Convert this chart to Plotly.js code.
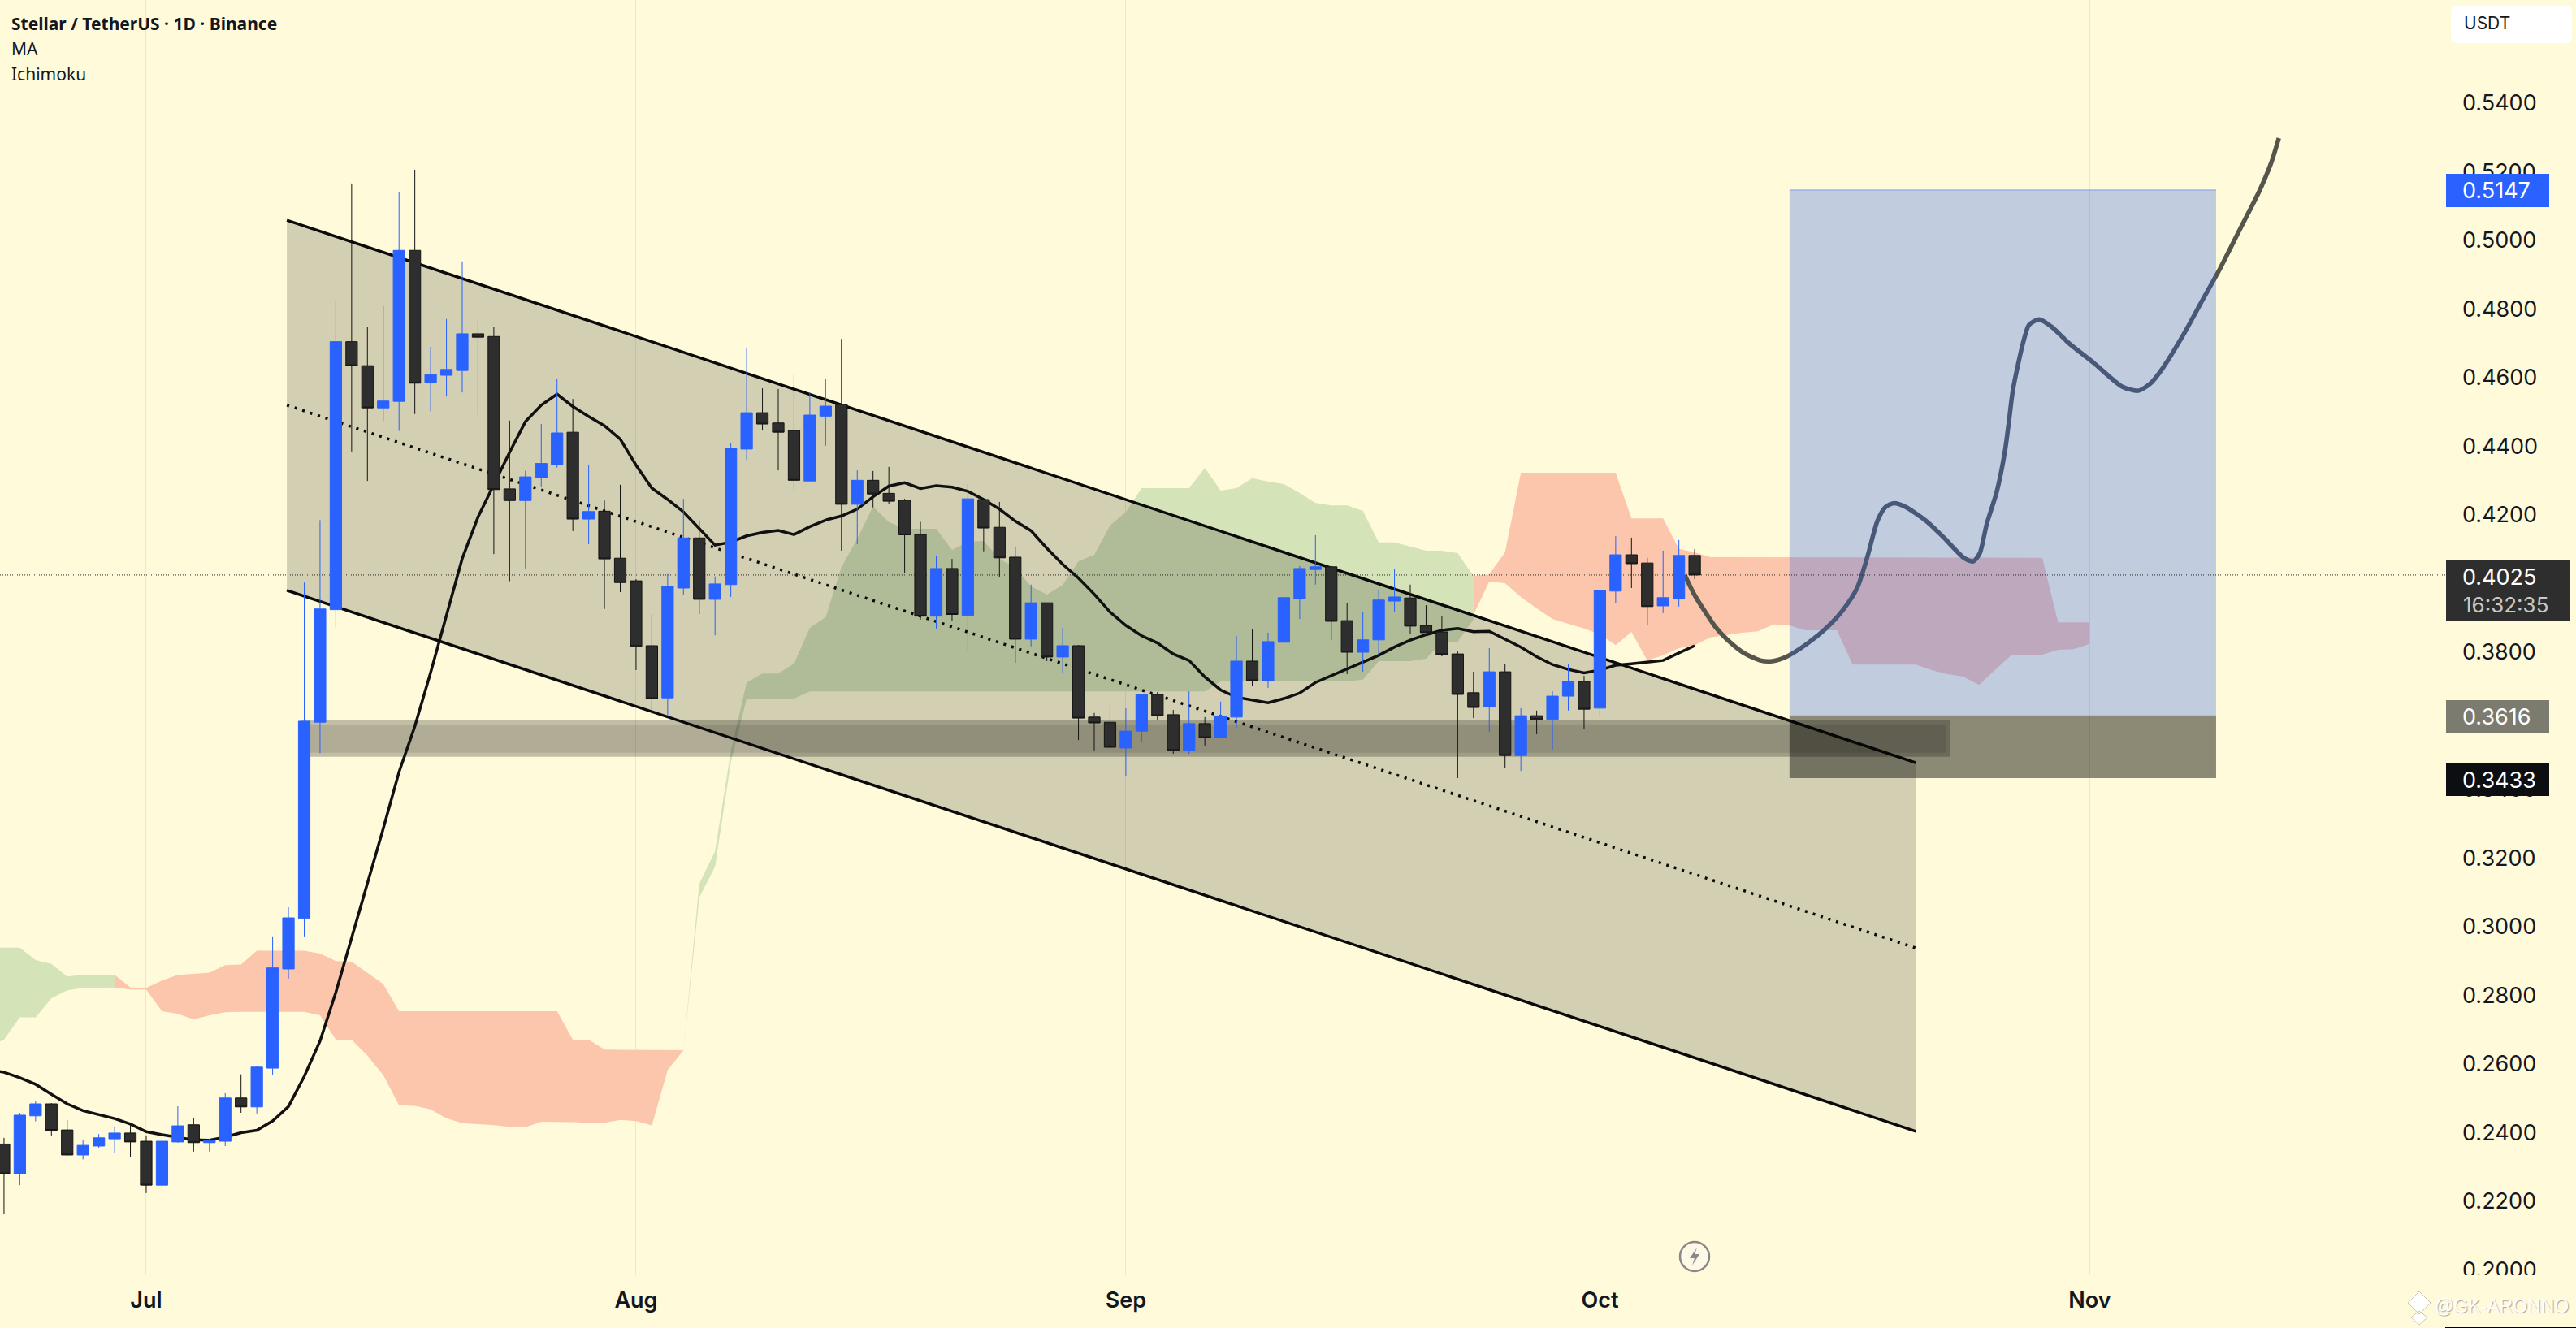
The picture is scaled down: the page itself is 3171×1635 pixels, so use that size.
<!DOCTYPE html>
<html>
<head>
<meta charset="utf-8">
<script src="https://cdn.plot.ly/plotly-3.0.1.min.js"></script>
<style>html,body{margin:0;padding:0;background:#FFFAD9}#chart{width:3171px;height:1635px}</style>
</head>
<body>
<div id="chart"></div>
<script>
// Day numbers count from 1 July (Jul = 0, Aug = 31, ...)
const monthDays = [0, 31, 62, 92, 123];
const monthLabels = ["Jul", "Aug", "Sep", "Oct", "Nov"];
const priceTicks = [0.20,0.22,0.24,0.26,0.28,0.30,0.32,0.34,0.36,0.38,0.40,0.42,0.44,0.46,0.48,0.50,0.52,0.54];
const firstCandleDay = -9;
const firstAverageDay = -10;

const openPrices = [.2367,.2280,.2449,.2484,.2408,.2335,.2361,.2382,.2399,
.2375,.2247,.2373,.2423,.2371,.2375,.2501,.2475,.2588,.2877,
.3024,.3596,.3924,.4705,.4635,.4512,.4531,.4971,.4586,.4607,
.4621,.4728,.4720,.4276,.4242,.4309,.4347,.4441,.4188,.4211,.4074,
.4008,.3819,.3667,.3987,.4133,.3954,.3997,.4392,.4498,.4468,
.4446,.4299,.4488,.4522,.4231,.4301,.4263,.4243,.4143,.3905,
.4044,.3907,.4245,.4164,.4077,.3838,.3944,.3786,.3819,.3611,.3596,
.3521,.3570,.3677,.3618,.3514,.3592,.3551,.3611,.3774,.3717,
.3829,.3956,.4041,.4049,.3892,.3800,.3836,.3949,.3958,.3878,
.3859,.3795,.3682,.3641,.3743,.3499,.3615,.3604,.3672,.3715,
.3637,.3978,.4084,.4060,.3935,.3956,.4082];
const highPrices = [.2385,.2458,.2493,.2486,.2437,.2380,.2396,.2418,.2423,
.2392,.2396,.2477,.2444,.2382,.2515,.2570,.2593,.2972,.3057,
.4003,.4185,.4825,.5166,.4749,.4809,.5142,.5206,.4690,.4771,
.4939,.4766,.4747,.4475,.4329,.4465,.4597,.4538,.4347,.4242,.4288,
.4013,.3911,.4028,.4247,.4184,.4021,.4409,.4688,.4569,.4567,
.4609,.4557,.4595,.4713,.4330,.4328,.4340,.4247,.4180,.4082,
.4072,.4290,.4245,.4238,.4108,.3997,.3944,.3871,.3821,.3623,.3646,
.3637,.3677,.3684,.3632,.3686,.3611,.3656,.3847,.3866,.3857,
.3963,.4051,.4141,.4052,.3944,.3916,.3982,.4044,.3997,.3937,
.3904,.3802,.3743,.3812,.3767,.3637,.3630,.3686,.3767,.3731,
.3982,.4138,.4134,.4075,.4096,.4127,.4101];
const lowPrices = [.2162,.2247,.2433,.2392,.2332,.2322,.2354,.2342,.2328,
.2224,.2238,.2371,.2345,.2345,.2361,.2458,.2456,.2567,.2849,
.2972,.3506,.3870,.4385,.4299,.4474,.4445,.4494,.4502,.4545,
.4557,.4491,.4086,.4007,.4044,.4283,.4338,.4153,.4115,.3926,.3975,
.3748,.3619,.3613,.3968,.3911,.3849,.3961,.4360,.4446,.4330,
.4274,.4299,.4402,.4096,.4115,.4222,.4231,.4030,.3895,.3869,
.3892,.3805,.4094,.4020,.3769,.3817,.3774,.3738,.3544,.3514,.3518,
.3438,.3537,.3601,.3504,.3504,.3528,.3551,.3580,.3703,.3696,
.3826,.3897,.3997,.3836,.3736,.3743,.3793,.3918,.3852,.3857,
.3788,.3433,.3608,.3568,.3464,.3454,.3561,.3516,.3630,.3575,
.3611,.3944,.3987,.3878,.3914,.3933,.4013];
const closePrices = [.2280,.2451,.2484,.2407,.2335,.2363,.2385,.2399,.2373,
.2247,.2375,.2420,.2371,.2378,.2501,.2475,.2591,.2880,.3026,
.3599,.3926,.4705,.4635,.4512,.4532,.4971,.4584,.4609,.4624,
.4728,.4718,.4274,.4242,.4311,.4350,.4439,.4188,.4210,.4072,.4003,
.3817,.3665,.3992,.4133,.3954,.3999,.4394,.4498,.4465,.4441,
.4301,.4491,.4517,.4231,.4301,.4261,.4240,.4142,.3905,.4044,
.3910,.4247,.4162,.4075,.3838,.3944,.3786,.3819,.3608,.3594,.3523,
.3570,.3677,.3615,.3514,.3592,.3551,.3613,.3774,.3717,.3831,
.3959,.4044,.4049,.3890,.3800,.3836,.3952,.3961,.3876,.3857,
.3793,.3677,.3639,.3743,.3499,.3615,.3604,.3672,.3715,.3634,
.3980,.4084,.4058,.3933,.3959,.4082,.4025];
const movingAverage = [.2584,.2576,.2560,.2541,.2512,.2484,.2464,.2452,.2441,.2425,
.2403,.2394,.2387,.2379,.2378,.2387,.2400,.2407,.2434,.2476,
.2564,.2667,.2809,.2967,.3125,.3286,.3451,.3584,.3741,.3910,
.4073,.4194,.4290,.4383,.4472,.4520,.4552,.4516,.4487,.4460,
.4421,.4345,.4278,.4245,.4209,.4161,.4112,.4121,.4139,.4149,
.4155,.4143,.4166,.4185,.4197,.4217,.4253,.4284,.4294,.4277,
.4285,.4281,.4269,.4245,.4217,.4182,.4154,.4103,.4056,.4016,
.3969,.3917,.3878,.3848,.3827,.3795,.3776,.3728,.3690,.3669,
.3661,.3653,.3665,.3681,.3712,.3732,.3752,.3772,.3791,.3815,
.3835,.3851,.3864,.3869,.3860,.3861,.3839,.3815,.3787,.3764,
.3750,.3740,.3748,.3762,.3766,.3770,.3776,.3798,.3819];

// Ichimoku cloud outlines
const green1TopDays = [-10,-8,-7,-6,-5,-4,-2];
const green1TopVals = [.2939,.2939,.2903,.2892,.2855,.2860,.2860];
const green1BotDays = [-10,-9,-8,-7,-6,-5,-4,-2];
const green1BotVals = [.2650,.2671,.2736,.2736,.2792,.2815,.2822,.2823];

const red1TopDays = [-2,-1,0,1,2,3,4,5,6,7,10,11,12,13,14,15,16,26,27,28,29,34];
const red1TopVals = [.2860,.2823,.2822,.2843,.2860,.2863,.2866,.2888,.2890,.2930,.2930,.2922,.2900,.2898,.2866,.2833,.2754,.2754,.2671,.2671,.2642,.2640];
const red1BotDays = [-2,-1,0,1,2,3,4,5,6,10,11,12,13,14,15,16,17,18,19,20,21,22,23,24,25,26,27,28,29,30,31,32,33,34];
const red1BotVals = [.2823,.2817,.2817,.2754,.2746,.2730,.2742,.2751,.2752,.2752,.2742,.2671,.2671,.2624,.2568,.2480,.2478,.2468,.2442,.2428,.2425,.2422,.2417,.2416,.2432,.2432,.2431,.2429,.2429,.2437,.2434,.2421,.2582,.2640];

const green2TopDays = [34,35,36,37,38,39,40,41,42,43,44,45,46,47,48,50,51,52,53,54,55,56,57,58,59,60,61,62,63,66,67,68,69,70,71,72,73,74,75,76,77,78,79,80,81,82,83,84];
const green2TopVals = [.2640,.3125,.3220,.3511,.3712,.3738,.3738,.3767,.3871,.3902,.4048,.4131,.4224,.4179,.4160,.4160,.4098,.4122,.4124,.4072,.4046,.3992,.3968,.3996,.4065,.4084,.4169,.4209,.4278,.4278,.4337,.4271,.4278,.4307,.4297,.4290,.4264,.4235,.4228,.4228,.4212,.4120,.4120,.4108,.4096,.4096,.4089,.4022];
const green2BotDays = [34,35,36,37,38,41,42,67,68,76,77,78,80,81,82,83,84];
const green2BotVals = [.2640,.3085,.3175,.3480,.3665,.3665,.3686,.3686,.3715,.3715,.3720,.3774,.3774,.3781,.3831,.3831,.3895];

const red2TopDays = [84,85,86,87,93,94,96,97,98,99,120,121,123];
const red2TopVals = [.4022,.4027,.4091,.4323,.4323,.4190,.4190,.4101,.4091,.4077,.4075,.3887,.3887];
const red2BotDays = [84,85,86,87,88,89,90,91,92,93,94,95,96,97,98,99,100,101,102,103,104,105,107,108,112,113,114,115,116,117,118,120,121,122,123];
const red2BotVals = [.3909,.4006,.4001,.3961,.3928,.3897,.3883,.3869,.3852,.3821,.3859,.3776,.3791,.3812,.3821,.3843,.3850,.3857,.3861,.3881,.3878,.3864,.3864,.3764,.3764,.3748,.3736,.3729,.3705,.3748,.3790,.3793,.3807,.3809,.3824];

// Drawn objects
const channelDays = [8.9, 112];
const channelUpper = [.5059, .3478];
const channelMiddle = [.4520, .2938];
const channelLower = [.3980, .2404];
const zoneOuterDays = [9.8, 114.15];
const zoneOuterPrices = [.3495, .3601];
const zoneInnerDays = [10.05, 113.9];
const zoneInnerPrices = [.3507, .3589];
const targetDays = [104, 131];
const targetPrices = [.3616, .5147];
const stopPrices = [.3433, .3616];
const lastPrice = .4025;
const plotRightDay = 145.5;
const plotLeftDay = -9.254;

const projectionDays = [97.37,97.93,98.57,99.34,99.98,101.0,102.15,102.92,103.81,105.09,106.37,107.4,108.29,108.93,109.57,110.08,110.59,111.36,112.77,113.79,115.07,115.63,116.04,116.48,117.12,117.63,117.88,118.14,118.78,119.16,119.8,120.57,121.72,123.26,125.05,126.07,126.84,127.61,128.89,130.16,131.19,132.47,133.75,134.51,134.97];
const projectionVals = [.4025,.3972,.3924,.3872,.3840,.3801,.3776,.3774,.3787,.3824,.3872,.3924,.3988,.4078,.4183,.4223,.4234,.4223,.4178,.4133,.4074,.4065,.4088,.4173,.4268,.4384,.4469,.4564,.4701,.4754,.4770,.4749,.4699,.4643,.4574,.4562,.4583,.4627,.4722,.4828,.4913,.5029,.5145,.5229,.5298];

const titleLines = ["Stellar / TetherUS · 1D · Binance", "MA", "Ichimoku"];
const currency = "USDT";
const countdown = "16:32:35";
const watermark = "@GK-ARONNO";

// ---- drawing ----
const W = 3171, H = 1635, PR = 3010, PB = 1570;
const BG = "#FFFAD9", BLUE = "#2962FF", DARK = "#2E2E2E", RED = "#FBC6AB", GREEN = "#D4E3B8";
const FONT = "Inter, 'Liberation Sans', sans-serif";
const px = x => x / PR, py = y => 1 - y / PB;

function poly(xs, ys, color) {
  return {type:"scatter", mode:"lines", x:xs, y:ys, fill:"toself", fillcolor:color,
          line:{width:0, color:"rgba(0,0,0,0)"}, hoverinfo:"skip", showlegend:false};
}
function cloud(td, tv, bd, bv, color) {
  return poly(td.concat(bd.slice().reverse()), tv.concat(bv.slice().reverse()), color);
}
function rect(days, prices, color) {
  return poly([days[0], days[1], days[1], days[0]], [prices[0], prices[0], prices[1], prices[1]], color);
}
function line(xs, ys, color, width, dash, shape) {
  return {type:"scatter", mode:"lines", x:xs, y:ys, hoverinfo:"skip", showlegend:false,
          line:{color:color, width:width, dash:dash || "solid", shape:shape || "linear", smoothing:0.7}};
}

const candleDays = openPrices.map((_, i) => firstCandleDay + i);
const averageDays = movingAverage.map((_, i) => firstAverageDay + i);

const traces = [
  cloud(green1TopDays, green1TopVals, green1BotDays, green1BotVals, GREEN),
  cloud(red1TopDays, red1TopVals, red1BotDays, red1BotVals, RED),
  cloud(green2TopDays, green2TopVals, green2BotDays, green2BotVals, GREEN),
  cloud(red2TopDays, red2TopVals, red2BotDays, red2BotVals, RED),
  poly([channelDays[0], channelDays[1], channelDays[1], channelDays[0]],
       [channelUpper[0], channelUpper[1], channelLower[1], channelLower[0]], "rgba(8,8,0,0.175)"),
  rect(zoneOuterDays, zoneOuterPrices, "rgba(0,0,0,0.24)"),
  rect(zoneInnerDays, zoneInnerPrices, "rgba(0,0,0,0.09)"),
  line(averageDays, movingAverage, "#111111", 3.5),
  line(channelDays, channelUpper, "#0A0A0A", 3.5),
  line(channelDays, channelLower, "#0A0A0A", 3.5),
  line(channelDays, channelMiddle, "#0A0A0A", 3.5, "3px,7px"),
  line(projectionDays, projectionVals, "#55554B", 5.5, "solid", "spline"),
  rect(targetDays, targetPrices, "rgba(41,98,235,0.29)"),
  line(targetDays, [targetPrices[1], targetPrices[1]], "rgba(41,98,255,0.55)", 1),
  rect(targetDays, stopPrices, "rgba(5,5,0,0.46)"),
  line([plotLeftDay, plotRightDay], [lastPrice, lastPrice], "#222222", 1, "1px,2px"),
  {type:"candlestick", xaxis:"x2", yaxis:"y2", x:candleDays,
   open:openPrices, high:highPrices, low:lowPrices, close:closePrices,
   increasing:{line:{color:BLUE, width:1}, fillcolor:BLUE},
   decreasing:{line:{color:"#141414", width:1}, fillcolor:DARK},
   whiskerwidth:0, hoverinfo:"skip", showlegend:false}
];

function note(x, y, text, opts) {
  opts = opts || {};
  return Object.assign({xref:"paper", yref:"paper", x:px(x), y:py(y), text:text, showarrow:false,
    xanchor:"left", yanchor:"middle", align:"left",
    font:{family:opts.family || FONT, size:opts.size || 27, color:opts.color || "#131722", weight:opts.weight || 400, shadow:opts.shadow}}, opts.extra || {});
}
function tag(y0, y1, right, color) {
  return {type:"rect", layer:"above", xref:"paper", yref:"paper", x0:px(3011), x1:px(right),
          y0:py(y0), y1:py(y1), fillcolor:color, line:{width:0}};
}
function pathOf(points, close) {
  return points.map((p, i) => (i ? "L" : "M") + px(p[0]) + "," + py(p[1])).join(" ") + (close ? " Z" : "");
}
function roundRect(x0, y0, x1, y1, r) {
  const P = (x, y) => px(x) + "," + py(y);
  return "M" + P(x0 + r, y0) + " L" + P(x1 - r, y0) + " Q" + P(x1, y0) + " " + P(x1, y0 + r) +
         " L" + P(x1, y1 - r) + " Q" + P(x1, y1) + " " + P(x1 - r, y1) +
         " L" + P(x0 + r, y1) + " Q" + P(x0, y1) + " " + P(x0, y1 - r) +
         " L" + P(x0, y0 + r) + " Q" + P(x0, y0) + " " + P(x0 + r, y0) + " Z";
}
const IC = [2086, 1547];
const WM = [2978, 1610];

const shapes = [
  // strip hiding the part of the lowest price label that falls below the pane
  {type:"rect", layer:"above", xref:"paper", yref:"paper", x0:px(3012), x1:px(W), y0:py(PB), y1:py(H), fillcolor:BG, line:{width:0}},
  {type:"rect", layer:"above", xref:"paper", yref:"paper", x0:px(PR), x1:px(W), y0:py(H - 1), y1:py(H), fillcolor:"#000000", line:{width:0}},
  {type:"path", layer:"above", xref:"paper", yref:"paper", path:roundRect(3017, 7, 3166, 53, 8), fillcolor:"#FFFFFF", line:{width:0}},
  tag(214, 255, 3138, BLUE),
  tag(689, 764, 3163, DARK),
  tag(862, 903, 3138, "#7C7B70"),
  tag(939, 980, 3138, "#0C0E12"),
  {type:"circle", layer:"above", xref:"paper", yref:"paper", x0:px(IC[0] - 18), x1:px(IC[0] + 18), y0:py(IC[1] - 18), y1:py(IC[1] + 18),
   fillcolor:"#FDF9E6", line:{color:"#8A868A", width:2.5}},
  {type:"path", layer:"above", xref:"paper", yref:"paper",
   path:pathOf([[IC[0]+3,IC[1]-11],[IC[0]-6,IC[1]+2],[IC[0],IC[1]+2],[IC[0]-3,IC[1]+11],[IC[0]+6,IC[1]-3],[IC[0],IC[1]-3]], true),
   fillcolor:"#8A868A", line:{width:0}},
  {type:"path", layer:"above", xref:"paper", yref:"paper",
   path:pathOf([[WM[0],WM[1]-20],[WM[0]+14,WM[1]-6],[WM[0],WM[1]+8],[WM[0]-14,WM[1]-6]], true) + " " +
        pathOf([[WM[0],WM[1]+4],[WM[0]+10,WM[1]+12],[WM[0],WM[1]+21],[WM[0]-10,WM[1]+12]], true),
   fillcolor:"rgba(255,255,255,0.95)", line:{color:"rgba(190,186,160,0.8)", width:1}}
];

const annotations = [
  note(12, 29, titleLines[0], {size:21, weight:700, family:"'Noto Sans', sans-serif"}),
  note(12, 60, titleLines[1], {size:21, family:"'Noto Sans', sans-serif"}),
  note(12, 91, titleLines[2], {size:21, family:"'Noto Sans', sans-serif"}),
  note(3031, 29, currency, {size:21}),
  note(3029, 234.5, targetPrices[1].toFixed(4), {color:"#FFFFFF"}),
  note(3029, 710, lastPrice.toFixed(4), {color:"#FFFFFF"}),
  note(3030, 744, countdown, {color:"#C8C8C8", size:26}),
  note(3029, 882, targetPrices[0].toFixed(4), {color:"#FFFFFF"}),
  note(3029, 960, stopPrices[0].toFixed(4), {color:"#FFFFFF"}),
  note(2995, 1608, watermark, {color:"#FFFFFF", size:23, family:"'Liberation Sans', sans-serif", shadow:"1px 1px 1px #A8A59A"})
];

const layout = {
  width:W, height:H, autosize:false,
  paper_bgcolor:BG, plot_bgcolor:BG,
  margin:{l:0, r:W - PR, t:0, b:H - PB, pad:0},
  showlegend:false, hovermode:false, dragmode:false,
  boxgap:0.27, boxgroupgap:0,
  xaxis:{type:"linear", range:[plotLeftDay, plotRightDay], tickmode:"array", tickvals:monthDays, ticktext:monthLabels,
         showgrid:true, gridcolor:"rgba(60,60,0,0.09)", gridwidth:1, zeroline:false, showline:false, ticks:"",
         tickfont:{family:FONT, size:27, color:"#131722", weight:600}, ticklabelstandoff:12, automargin:false, rangeslider:{visible:false}},
  yaxis:{type:"linear", side:"right", range:[0.19846, 0.57006], tickmode:"array", tickvals:priceTicks,
         ticktext:priceTicks.map(v => v.toFixed(4)), showgrid:false, zeroline:false, showline:false, ticks:"",
         tickfont:{family:FONT, size:27, color:"#131722"}, ticklabelstandoff:20, automargin:false},
  xaxis2:{type:"linear", overlaying:"x", range:[plotLeftDay, plotRightDay], visible:false, rangeslider:{visible:false}, fixedrange:true},
  yaxis2:{type:"linear", overlaying:"y", side:"right", range:[0.19846, 0.57006], visible:false, fixedrange:true},
  shapes:shapes, annotations:annotations
};

Plotly.newPlot("chart", traces, layout, {staticPlot:true, displayModeBar:false, responsive:false});
</script>
</body>
</html>
